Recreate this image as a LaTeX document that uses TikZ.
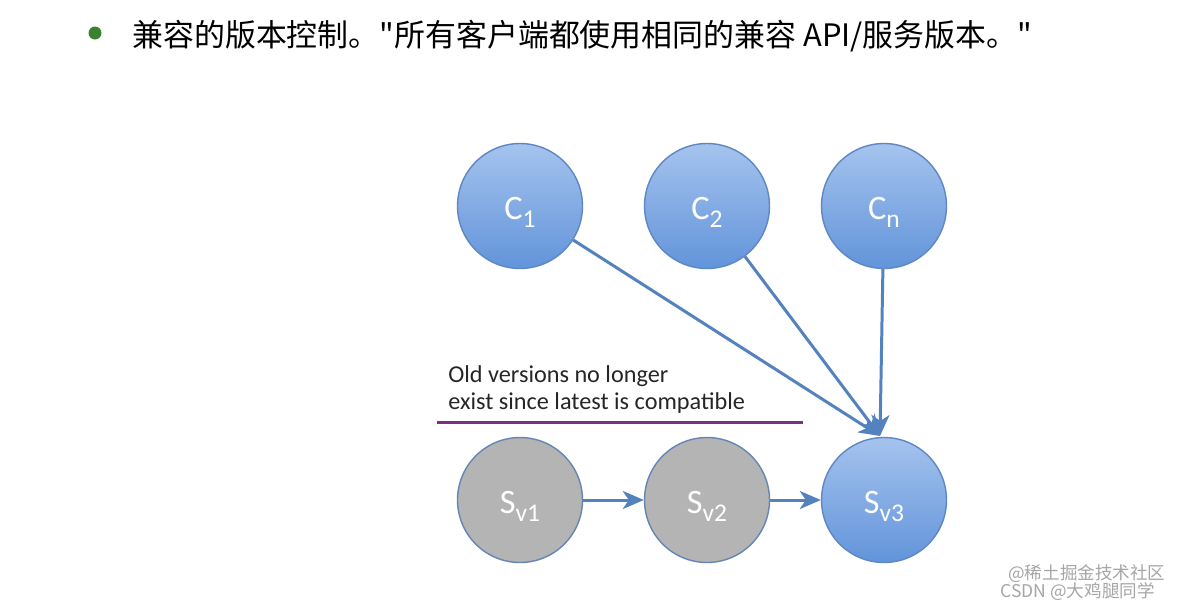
\documentclass[tikz,border=0pt]{standalone}
\usepackage{fontspec}
\setmainfont{Carlito}
\newfontfamily\cjk{Noto Sans CJK SC}
\usetikzlibrary{arrows.meta}
\definecolor{arrowblue}{RGB}{84,130,190}
\definecolor{edgeblue}{RGB}{95,135,195}
\definecolor{topblue}{RGB}{165,195,238}
\definecolor{botblue}{RGB}{98,148,218}
\definecolor{greyfill}{RGB}{180,180,180}
\definecolor{linepurple}{RGB}{125,45,130}
\definecolor{bulletgreen}{RGB}{56,130,50}
\newcommand{\circtext}[2]{\raisebox{-7.5pt}[0pt][0pt]{#1\raisebox{-5pt}{\fontsize{14.5}{14.5}\selectfont #2}}}
\tikzset{
  bluenode/.style={circle, minimum size=2.5cm, inner sep=0pt, draw=edgeblue, line width=0.8pt,
    top color=topblue, bottom color=botblue, text=white, font=\fontsize{19.5}{19.5}\selectfont},
  greynode/.style={circle, minimum size=2.5cm, inner sep=0pt, draw=edgeblue!80!gray, line width=0.8pt,
    fill=greyfill, text=white, font=\fontsize{19.5}{19.5}\selectfont},
  conn/.style={draw=arrowblue, line width=1.7pt, -{Stealth[length=4.2mm,width=3.6mm,inset=1.2mm]}},
  wm/.style={text=gray!70, font=\cjk\fontsize{10}{10}\selectfont, inner sep=0pt, anchor=west}
}
\begin{document}
\begin{tikzpicture}[x=0.02cm,y=-0.02cm]
\useasboundingbox (0,0) rectangle (1186,606);
\fill[white] (0,0) rectangle (1186,606);
% title
\node[circle, fill=bulletgreen, minimum size=0.26cm, inner sep=0pt] (bullet) at (95,33) {};
\node[anchor=west, inner sep=0pt, font=\cjk\fontsize{17.6}{17.6}\selectfont] (title) at (132,36)
  {兼容的版本控制。"所有客户端都使用相同的兼容 API/服务版本。"};
% client nodes
\node[bluenode] (c1) at (520,206) {\circtext{C}{1}};
\node[bluenode] (c2) at (707,206) {\circtext{C}{2}};
\node[bluenode] (cn) at (884,206) {\circtext{C}{n}};
% service nodes
\node[greynode] (s1) at (520,500) {\circtext{S}{v1}};
\node[greynode] (s2) at (707,500) {\circtext{S}{v2}};
\node[bluenode] (s3) at (884,500) {\circtext{S}{v3}};
\coordinate (tip) at (880,436);
% connectors
\draw[conn] (c1) -- (tip);
\draw[conn] (c2) -- (tip);
\draw[conn] (cn) -- (tip);
\draw[conn] (s1) -- (s2);
\draw[conn] (s2) -- (s3);
% note
\node[anchor=north west, inner sep=0pt, align=left, text=black!85,
  font=\fontsize{13.8}{15.3}\selectfont] (note) at (448,365)
  {Old versions no longer\\exist since latest is compatible};
\coordinate (la) at (437,422);
\coordinate (lb) at (803,422);
\draw[linepurple, line width=1.7pt] (la) -- (lb);
% watermarks
\node[wm] (wm1) at (1008,574) {@稀土掘金技术社区};
\node[wm] (wm2) at (1000,592) {CSDN @大鸡腿同学};
\end{tikzpicture}
\end{document}
